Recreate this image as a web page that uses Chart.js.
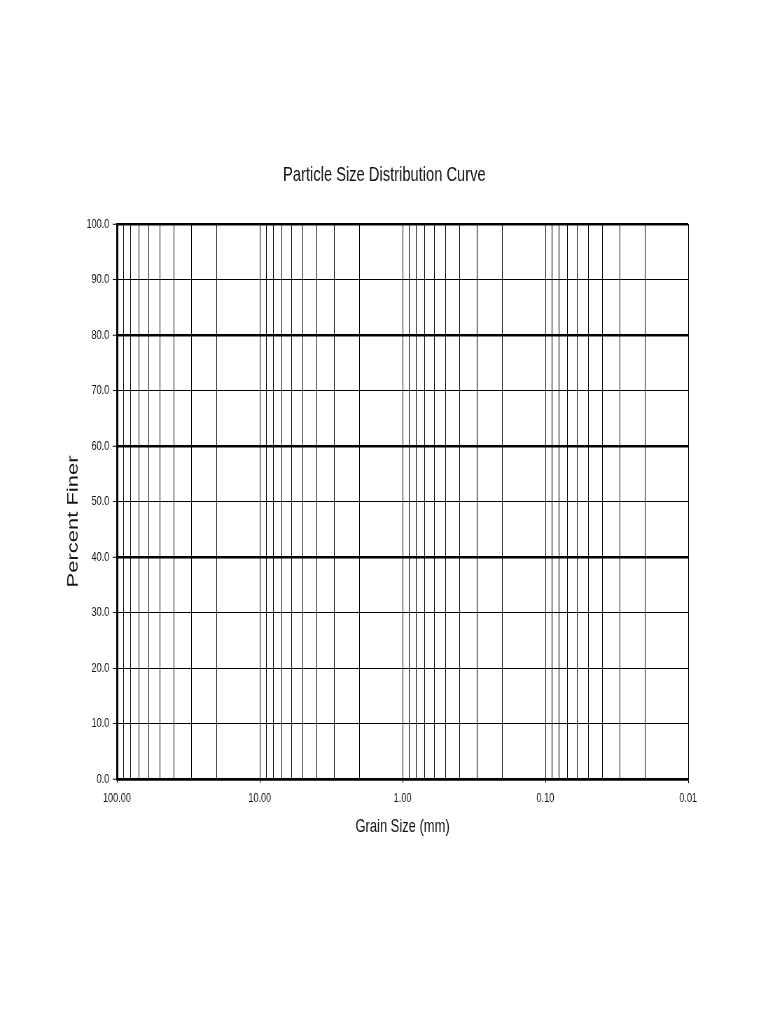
<!DOCTYPE html>
<html>
<head>
<meta charset="utf-8">
<title>Particle Size Distribution Curve</title>
<script src="https://cdn.jsdelivr.net/npm/chart.js@4.4.0/dist/chart.umd.min.js"></script>
<style>
  html, body { margin: 0; padding: 0; background: #fff; }
</style>
</head>
<body>
<!-- the sheet is squeezed sideways: the canvas is drawn wide and its inline style narrows it -->
<canvas id="psd" width="1097" height="1024" style="display:block;width:768px;height:1024px"></canvas>
<script>
// Grain sizes (mm) that get a vertical grid line, 100 down to 0.01
const grainGridLines = [
    100, 90, 80, 70, 60, 50, 40, 30, 20,
    10, 9, 8, 7, 6, 5, 4, 3, 2,
    1, 0.9, 0.8, 0.7, 0.6, 0.5, 0.4, 0.3, 0.2,
    0.1, 0.09, 0.08, 0.07, 0.06, 0.05, 0.04, 0.03, 0.02,
    0.01
];
const decadeLabels = [100, 10, 1, 0.1, 0.01];

const percentTicks = [0, 10, 20, 30, 40, 50, 60, 70, 80, 90, 100];
const heavyPercentLines = [0, 40, 60, 80, 100];

// blank sheet: no sieve results plotted yet
const grainSize = [];
const percentFiner = [];

const fontFamily = "'Liberation Sans', Arial, sans-serif";
const textColor = '#111';

Chart.defaults.font.family = fontFamily;

// y title sits a bit below the middle of the axis, so it is drawn here
const yTitle = {
    id: 'yTitle',
    afterDraw(chart) {
        const { ctx, chartArea } = chart;
        ctx.save();
        ctx.translate(105, (chartArea.top + chartArea.bottom) / 2 + 20);
        ctx.rotate(-Math.PI / 2);
        ctx.font = `22px ${fontFamily}`;
        ctx.fillStyle = textColor;
        ctx.textAlign = 'center';
        ctx.textBaseline = 'middle';
        ctx.fillText('Percent Finer', 0, 0);
        ctx.restore();
    }
};

const isDecade = (v) => decadeLabels.includes(v);

new Chart(document.getElementById('psd').getContext('2d'), {
    type: 'scatter',
    data: {
        datasets: [{
            data: grainSize.map((g, i) => ({ x: g, y: percentFiner[i] })),
            borderColor: '#000',
            backgroundColor: '#000',
            showLine: true
        }]
    },
    plugins: [yTitle],
    options: {
        responsive: false,
        devicePixelRatio: 1,
        animation: false,
        layout: {
            padding: { left: 115, right: 114, top: 0, bottom: 145 }
        },
        plugins: {
            legend: { display: false },
            tooltip: { enabled: false },
            title: {
                display: true,
                text: 'Particle Size Distribution Curve',
                color: textColor,
                font: { size: 21, weight: 'normal' },
                padding: { top: 162.9, bottom: 35.9 }
            }
        },
        scales: {
            x: {
                type: 'logarithmic',
                reverse: true,
                min: 0.01,
                max: 100,
                afterBuildTicks: (axis) => {
                    axis.ticks = grainGridLines.map(v => ({ value: v }));
                },
                afterFit: (axis) => { axis.height = 100; },
                grid: {
                    color: '#000',
                    lineWidth: 1,
                    tickLength: 4,
                    tickWidth: 1,
                    tickColor: (c) => (c.tick && isDecade(c.tick.value)) ? '#000' : 'rgba(0,0,0,0)'
                },
                border: { display: true, color: '#000', width: 2.5 },
                ticks: {
                    autoSkip: false,
                    maxRotation: 0,
                    padding: 8,
                    color: textColor,
                    font: { size: 13 },
                    callback: (v) => isDecade(v) ? v.toFixed(2) : ''
                },
                title: {
                    display: true,
                    text: 'Grain Size (mm)',
                    color: textColor,
                    font: { size: 18.5 },
                    padding: { top: 0, bottom: 40.9 }
                }
            },
            y: {
                min: 0,
                max: 100,
                afterBuildTicks: (axis) => {
                    axis.ticks = percentTicks.map(v => ({ value: v }));
                },
                afterFit: (axis) => { axis.width = 52; },
                grid: {
                    color: '#000',
                    lineWidth: (c) => (c.tick && heavyPercentLines.includes(c.tick.value)) ? 2.5 : 1,
                    tickLength: 6,
                    tickWidth: 1,
                    tickColor: '#000'
                },
                border: { display: true, color: '#000', width: 3 },
                ticks: {
                    padding: 5,
                    color: textColor,
                    font: { size: 13 },
                    callback: (v) => v.toFixed(1)
                }
            }
        }
    }
});
</script>
</body>
</html>
